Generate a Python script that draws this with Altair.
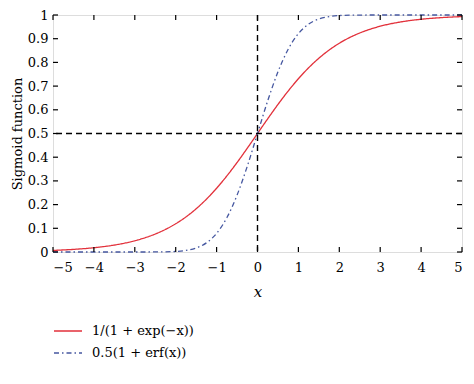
import altair as alt
import pandas as pd

# ---- data ----
x_vals = [-5, -4.5, -4, -3.5, -3, -2.5, -2.25, -2, -1.75, -1.5, -1.25, -1, -0.75, -0.5, -0.25,
          0, 0.25, 0.5, 0.75, 1, 1.25, 1.5, 1.75, 2, 2.25, 2.5, 3, 3.5, 4, 4.5, 5]
sigmoid_vals = [0.0067, 0.0110, 0.0180, 0.0293, 0.0474, 0.0759, 0.0953, 0.1192, 0.1480, 0.1824,
                0.2227, 0.2689, 0.3208, 0.3775, 0.4378, 0.5, 0.5622, 0.6225, 0.6792, 0.7311,
                0.7773, 0.8176, 0.8520, 0.8808, 0.9047, 0.9241, 0.9526, 0.9707, 0.9820, 0.9890, 0.9933]
erf_vals = [0, 0, 0, 0, 0.00001, 0.0002, 0.0007, 0.0023, 0.0067, 0.0169, 0.0385, 0.0786, 0.1444,
            0.2398, 0.3618, 0.5, 0.6382, 0.7602, 0.8556, 0.9214, 0.9615, 0.9831, 0.9933, 0.9977,
            0.9993, 0.9998, 0.99999, 1, 1, 1, 1]
series_names = ["1/(1 + exp(\u2212x))", "0.5(1 + erf(x))"]
x_ticks = [-5, -4, -3, -2, -1, 0, 1, 2, 3, 4, 5]
y_ticks = [0, 0.1, 0.2, 0.3, 0.4, 0.5, 0.6, 0.7, 0.8, 0.9, 1]
ref_x = [0]
ref_y = [0.5]

rows = []
for xv, s, e in zip(x_vals, sigmoid_vals, erf_vals):
    rows.append({"x": xv, "y": s, "series": series_names[0]})
    rows.append({"x": xv, "y": e, "series": series_names[1]})
df = pd.DataFrame(rows)

W, H = 409, 237
FONT = "DejaVu Serif"
xscale = alt.Scale(domain=[-5, 5], nice=False, zero=False)
yscale = alt.Scale(domain=[0, 1], nice=False)

xaxis = alt.Axis(values=x_ticks, grid=False, ticks=False, domain=False, format="~g",
                 labelFont=FONT, labelFontSize=13, labelColor="black", labelPadding=9,
                 title="x", titleFont=FONT, titleFontStyle="italic",
                 titleFontWeight="normal", titleFontSize=15, titleColor="black",
                 titlePadding=10)
yaxis = alt.Axis(values=y_ticks, grid=False, ticks=False, domain=False, format="~g",
                 labelFont=FONT, labelFontSize=13, labelColor="black", labelPadding=5,
                 title="Sigmoid function", titleFont=FONT, titleFontWeight="normal",
                 titleFontSize=13, titleColor="black", titlePadding=3)

leg = alt.Legend(title=None, orient="none", legendX=0, legendY=301, symbolType="stroke",
                 symbolSize=784, symbolStrokeWidth=1.4, labelFont=FONT, labelFontSize=13,
                 labelColor="black", labelOffset=9, rowPadding=0, padding=0)

lines = alt.Chart(df).mark_line(interpolate="monotone", strokeWidth=1.3).encode(
    x=alt.X("x:Q", scale=xscale, axis=xaxis),
    y=alt.Y("y:Q", scale=yscale, axis=yaxis),
    color=alt.Color("series:N", scale=alt.Scale(domain=series_names, range=["#e2313b", "#4557a0"]),
                    legend=leg),
    strokeDash=alt.StrokeDash("series:N", scale=alt.Scale(domain=series_names,
                                                          range=[[1, 0], [5, 3, 1.5, 3]]),
                              legend=leg),
)

vref = alt.Chart(pd.DataFrame({"x": ref_x})).mark_rule(
    color="black", strokeWidth=1.4, strokeDash=[6, 4]).encode(
    x=alt.X("x:Q", scale=xscale, axis=xaxis))
href = alt.Chart(pd.DataFrame({"y": ref_y})).mark_rule(
    color="black", strokeWidth=1.4, strokeDash=[6, 4]).encode(
    y=alt.Y("y:Q", scale=yscale, axis=yaxis))

xt = pd.DataFrame({"x": x_ticks})
yt = pd.DataFrame({"y": y_ticks})
tick_style = dict(color="black", strokeWidth=1.2)
tb = alt.Chart(xt).mark_rule(**tick_style).encode(
    x=alt.X("x:Q", scale=xscale, axis=xaxis), y=alt.value(H), y2=alt.value(H - 5))
tt = alt.Chart(xt).mark_rule(**tick_style).encode(
    x=alt.X("x:Q", scale=xscale, axis=xaxis), y=alt.value(0), y2=alt.value(5))
tl = alt.Chart(yt).mark_rule(**tick_style).encode(
    y=alt.Y("y:Q", scale=yscale, axis=yaxis), x=alt.value(0), x2=alt.value(5))
tr = alt.Chart(yt).mark_rule(**tick_style).encode(
    y=alt.Y("y:Q", scale=yscale, axis=yaxis), x=alt.value(W), x2=alt.value(W - 5))

chart = alt.layer(lines, vref, href, tb, tt, tl, tr).properties(
    width=W, height=H, autosize="none",
    padding={"left": 45, "top": 7, "right": 4, "bottom": 116},
).configure_view(stroke="black", strokeWidth=1.5).configure(background="white")

chart.save("out.html", embed_options={"renderer": "svg", "actions": False})
